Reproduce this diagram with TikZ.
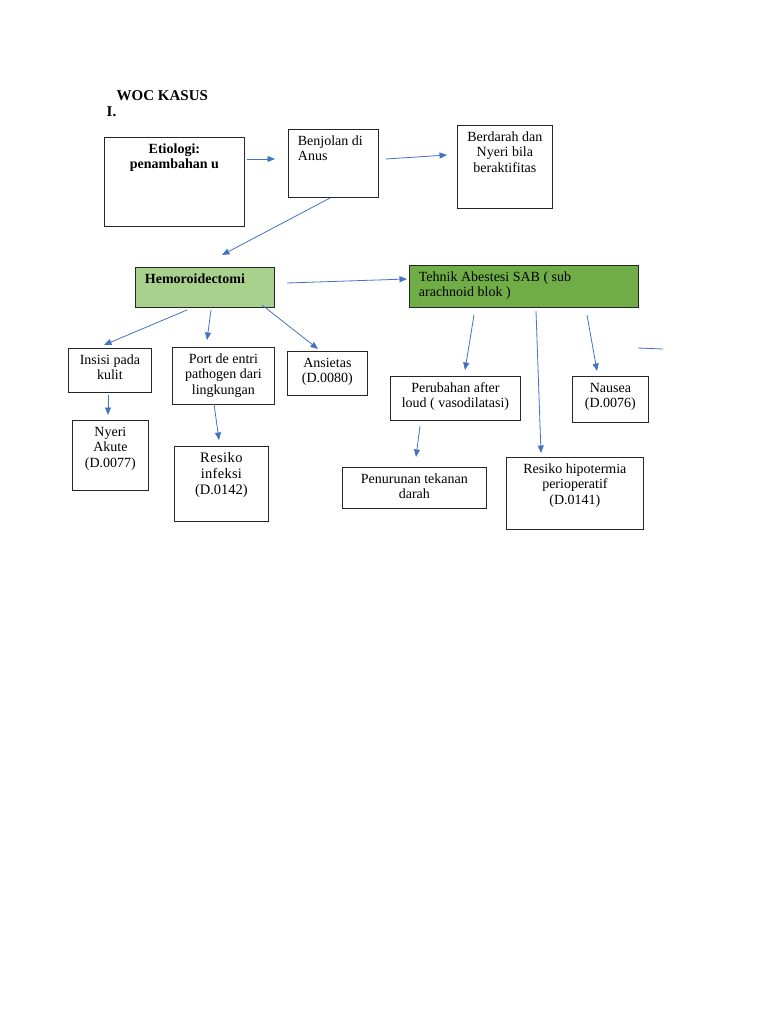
\documentclass[tikz,border=0pt]{standalone}
\usepackage{fontspec}
\setmainfont{Liberation Serif}
\usetikzlibrary{arrows.meta}
\definecolor{arrowblue}{HTML}{4472C4}
\definecolor{lightgreen}{HTML}{A9D18E}
\definecolor{midgreen}{HTML}{70AD47}
\newcommand\boxc[3]{\parbox[c][#2pt][t]{#1pt}{\vspace*{5pt}\centering\strut #3\par}}
\newcommand\boxl[3]{\parbox[c][#2pt][t]{#1pt}{\vspace*{5pt}\raggedright\leftskip=9.5pt\strut #3\par}}
\begin{document}
\begin{tikzpicture}[x=1pt,y=-1pt,
  box/.style={draw=black!85,line width=0.8pt,inner sep=0pt,anchor=north west,
    font=\fontsize{14}{15.5}\selectfont},
  conn/.style={draw=arrowblue,line width=0.8pt,-{Triangle[length=7.5pt,width=6pt]}},
  plainline/.style={draw=arrowblue,line width=0.8pt}]
\useasboundingbox (0,0) rectangle (768,1024);
\fill[white] (0,0) rectangle (768,1024);
% title
\node[anchor=base west,inner sep=0pt,font=\fontsize{15}{17}\selectfont\bfseries] (title) at (116.5,101) {WOC KASUS};
\node[anchor=base west,inner sep=0pt,font=\fontsize{15}{17}\selectfont\bfseries] (num) at (106.5,117) {I.};
% boxes
\node[box] (et) at (104,137) {\boxc{140}{89}{\bfseries Etiologi:\\penambahan u}};
\node[box] (bj) at (288,129) {\boxl{90}{68}{Benjolan di\\Anus}};
\node[box] (bd) at (457,125) {\boxc{95}{83}{Berdarah dan\\Nyeri bila\\beraktifitas}};
\node[box,fill=lightgreen] (hm) at (135,267) {\boxl{139}{40}{\bfseries Hemoroidectomi}};
\node[box,fill=midgreen] (th) at (409,265) {\boxl{229}{42}{Tehnik Abestesi SAB ( sub\\arachnoid blok )}};
\node[box] (in) at (68,348) {\boxc{83}{44}{Insisi pada\\kulit}};
\node[box] (pt) at (172,347) {\boxc{102}{57}{Port de entri\\pathogen dari\\lingkungan}};
\node[box] (an) at (287,351) {\boxc{80}{44}{Ansietas\\(D.0080)}};
\node[box] (ny) at (72,420) {\boxc{76}{70}{Nyeri\\Akute\\(D.0077)}};
\node[box,font=\fontsize{14.5}{16}\selectfont] (ri) at (174,446) {\boxc{94}{75}{{\addfontfeature{LetterSpace=3}Resiko}\\{\addfontfeature{LetterSpace=2}infeksi}\\(D.0142)}};
\node[box] (pr) at (390,376) {\boxc{130}{44}{Perubahan after\\loud ( vasodilatasi)}};
\node[box] (na) at (572,376) {\boxc{76}{46}{Nausea\\(D.0076)}};
\node[box] (pn) at (342,467) {\boxc{144}{41}{Penurunan tekanan\\darah}};
\node[box] (rh) at (506,457) {\boxc{137}{72}{Resiko hipotermia\\perioperatif\\(D.0141)}};
% connector end points
\coordinate (a1s) at (247,159); \coordinate (a1e) at (275,159);
\coordinate (a2s) at (386,159); \coordinate (a2e) at (447,155);
\coordinate (a3s) at (330,198); \coordinate (a3e) at (222,255);
\coordinate (a4s) at (287,283); \coordinate (a4e) at (407,279);
\coordinate (a5s) at (187,310); \coordinate (a5e) at (104,345);
\coordinate (a6s) at (211,310); \coordinate (a6e) at (207,340);
\coordinate (a7s) at (262,305); \coordinate (a7e) at (318,349);
\coordinate (a8s) at (108,395); \coordinate (a8e) at (108,415);
\coordinate (a9s) at (214,404); \coordinate (a9e) at (219,440);
\coordinate (b1s) at (474,315); \coordinate (b1e) at (465,370);
\coordinate (b2s) at (536,311); \coordinate (b2e) at (541,453);
\coordinate (b3s) at (587,315); \coordinate (b3e) at (597,371);
\coordinate (b4s) at (420,426); \coordinate (b4e) at (416,457);
\coordinate (l1s) at (638,348); \coordinate (l1e) at (663,349);
% connectors
\foreach \p in {a1,a2,a3,a4,a5,a6,a7,a8,a9,b1,b2,b3,b4}
  \draw[conn] (\p s) -- (\p e);
\draw[plainline] (l1s) -- (l1e);
\end{tikzpicture}
\end{document}
